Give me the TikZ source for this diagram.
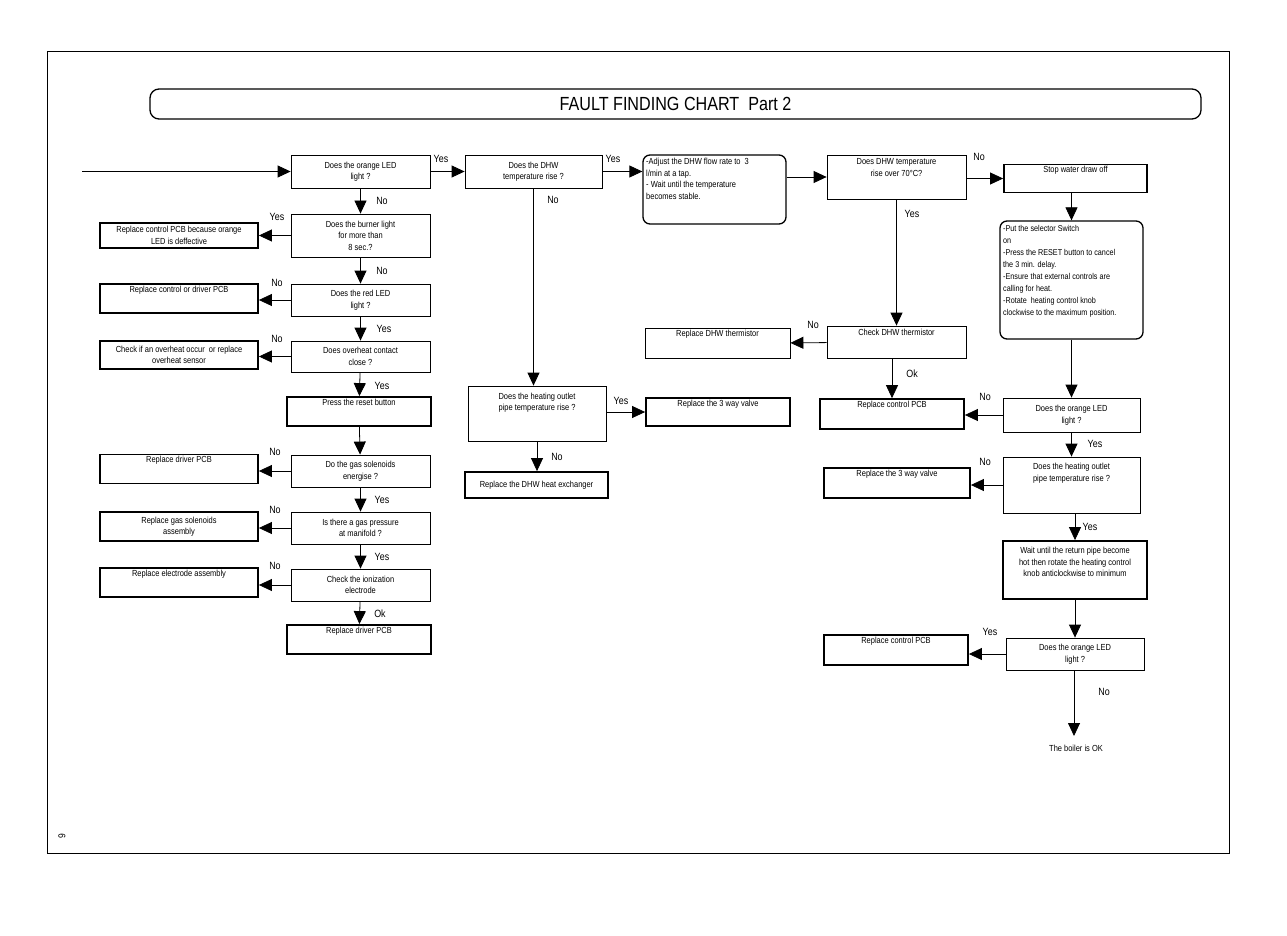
\documentclass[tikz,border=0pt]{standalone}
\usepackage{fontspec}
\setmainfont{Liberation Sans}[FakeStretch=0.85]
\usetikzlibrary{arrows.meta}
\newcommand\bx[7]{\node[#6, minimum width={(#4-#2)*1pt}, minimum height={(#5-#3)*1pt}] (#1) at ({(#2+#4)/2},{-(#3+#5)/2}) {#7};}
\begin{document}
\begin{tikzpicture}[x=1pt,y=1pt,
  every node/.style={font=\fontsize{8.8}{11.5}\selectfont, inner sep=2pt},
  box/.style={draw, line width=0.8pt, align=center},
  tbox/.style={draw, line width=1.8pt, align=center},
  rbox/.style={draw, line width=1.3pt, rounded corners=7pt},
  rtext/.style={align=left, anchor=north west, inner sep=1pt},
  ar/.style={line width=0.8pt, -{Triangle[length=13pt,width=12pt]}},
  lab/.style={font=\fontsize{10.5}{12}\selectfont}]
\useasboundingbox (0,0) rectangle (1287,-936);
\draw[line width=1pt] (47,-52) rectangle (1229,-853);
\node[draw, line width=1.3pt, rounded corners=9pt, minimum width=1051pt, minimum height=30pt, font=\fontsize{19}{22}\selectfont] (title) at (675.5,-104) {FAULT FINDING CHART\ \ Part 2};
\node[rotate=90, font=\fontsize{10}{12}\selectfont] (pg) at (62,-836) {9};
% left column
\coordinate (in) at (82,-171.5);
\bx{A1}{291}{155}{430}{188}{box}{Does the orange LED\\light ?}
\bx{A2}{291}{214}{430}{257}{box}{Does the burner light\\for more than\\8 sec.?}
\bx{A3}{291}{284}{430}{316}{box}{Does the red LED\\light ?}
\bx{A4}{291}{341}{430}{372}{box}{Does overheat contact\\close ?}
\bx{A5}{287}{397}{431}{426}{tbox}{Press the reset button\\[7pt]}
\bx{A6}{291}{455}{430}{487}{box}{Do the gas solenoids\\energise ?}
\bx{A7}{291}{512}{430}{544}{box}{Is there a gas pressure\\at manifold ?}
\bx{A8}{291}{569}{430}{601}{box}{Check the ionization\\electrode}
\bx{A9}{287}{625}{431}{654}{tbox}{Replace driver PCB\\[7pt]}
\bx{L2}{100}{223}{258}{248}{tbox}{Replace control PCB because orange\\LED is deffective}
\bx{L3}{100}{285}{258}{312}{tbox}{Replace control or driver PCB\\[7pt]}
\bx{L4}{100}{341}{258}{369}{tbox}{Check if an overheat occur\ \ or replace\\overheat sensor}
\bx{L6}{100}{455}{258}{483}{tbox}{Replace driver PCB\\[7pt]}
\bx{L7}{100}{512}{258}{541}{tbox}{Replace gas solenoids\\assembly}
\bx{L8}{100}{568}{258}{597}{tbox}{Replace electrode assembly\\[7pt]}
\draw[ar] (in) -- (A1.west);
\draw[ar] (A1) -- (A2); \draw[ar] (A2) -- (A3); \draw[ar] (A3) -- (A4);
\draw[ar] (A4) -- (A5); \draw[ar] (A5) -- (A6); \draw[ar] (A6) -- (A7);
\draw[ar] (A7) -- (A8); \draw[ar] (A8) -- (A9);
\draw[ar] (A2.west) -- (A2.west -| L2.east);
\draw[ar] (A3.west) -- (A3.west -| L3.east);
\draw[ar] (A4.west) -- (A4.west -| L4.east);
\draw[ar] (A6.west) -- (A6.west -| L6.east);
\draw[ar] (A7.west) -- (A7.west -| L7.east);
\draw[ar] (A8.west) -- (A8.west -| L8.east);
\node[lab] at (441,-159) {Yes};
\node[lab] at (382,-201) {No};
\node[lab] at (277,-217) {Yes};
\node[lab] at (382,-271) {No};
\node[lab] at (277,-283) {No};
\node[lab] at (384,-329) {Yes};
\node[lab] at (277,-339) {No};
\node[lab] at (382,-386) {Yes};
\node[lab] at (275,-452) {No};
\node[lab] at (382,-500) {Yes};
\node[lab] at (275,-510) {No};
\node[lab] at (382,-557) {Yes};
\node[lab] at (275,-566) {No};
\node[lab] at (380,-614) {Ok};
% column 2
\bx{B1}{465}{155}{602}{188}{box}{Does the DHW\\temperature rise ?}
\bx{B2}{468}{386}{606}{441}{box}{Does the heating outlet\\pipe temperature rise ?\\[12pt]}
\bx{B3}{465}{472}{608}{498}{tbox}{Replace the DHW heat exchanger}
\bx{B4}{646}{398}{790}{426}{tbox}{Replace the 3 way valve\\[6pt]}
\draw[ar] (A1) -- (B1);
\draw[ar] (B1.south) -- (B1.south |- B2.north);
\draw[ar] (B2.south) -- (B2.south |- B3.north);
\draw[ar] (B2.east |- B4) -- (B4.west);
\node[lab] at (553,-200) {No};
\node[lab] at (557,-457) {No};
\node[lab] at (621,-401) {Yes};
\node[lab] at (613,-159) {Yes};
% column 3
\bx{C1}{643}{155}{786}{224}{rbox}{}
\node[rtext] (C1t) at (645,-157) {-Adjust the DHW flow rate to\ \ 3\\l/min at a tap.\\- Wait until the temperature\\becomes stable.};
\bx{C2}{827}{155}{966}{199}{box}{Does DHW temperature\\rise over 70°C?\\[8pt]}
\bx{C3}{827}{326}{966}{358}{box}{Check DHW thermistor\\[8pt]}
\bx{C4}{645}{329}{790}{358}{box}{Replace DHW thermistor\\[8pt]}
\bx{C5}{820}{400}{964}{428}{tbox}{Replace control PCB\\[8pt]}
\bx{C6}{824}{469}{970}{497}{tbox}{Replace the 3 way valve\\[8pt]}
\bx{C7}{824}{636}{968}{664}{tbox}{Replace control PCB\\[8pt]}
\draw[ar] (B1.east) -- (B1.east -| C1.west);
\draw[ar] (C1.east |- C2) -- (C2.west);
\draw[ar] (C2) -- (C3);
\draw[ar] (C3) -- (C4);
\draw[ar] (C3.south -| C5.north) -- (C5.north);
\node[lab] at (979,-157) {No};
\node[lab] at (912,-214) {Yes};
\node[lab] at (813,-325) {No};
\node[lab] at (912,-374) {Ok};
\node[lab] at (985,-397) {No};
\node[lab] at (985,-462) {No};
\node[lab] at (990,-632) {Yes};
% column 4
\bx{D1}{1004}{165}{1147}{192}{tbox}{Stop water draw off\\[6pt]}
\bx{D2}{1000}{221}{1143}{339}{rbox}{}
\node[rtext, font=\fontsize{8.5}{12}\selectfont] (D2t) at (1002,-224) {-Put the selector Switch\\on\\-Press the RESET button to cancel\\the 3 min. delay.\\-Ensure that external controls are\\calling for heat.\\-Rotate\ \ heating control knob\\clockwise to the maximum position.};
\bx{D3}{1003}{398}{1140}{432}{box}{Does the orange LED\\light ?}
\bx{D4}{1003}{457}{1140}{513}{box}{Does the heating outlet\\pipe temperature rise ?\\[14pt]}
\bx{D5}{1003}{541}{1147}{599}{tbox}{Wait until the return pipe become\\hot then rotate the heating control\\knob anticlockwise to minimum\\[4pt]}
\bx{D6}{1006}{638}{1144}{670}{box}{Does the orange LED\\light ?}
\node (end) at (1076,-748) {The boiler is OK};
\coordinate (endt) at (1074,-736);
\draw[ar] (C2.east |- D1) -- (D1.west);
\draw[ar] (D1.south -| D2.north) -- (D2.north);
\draw[ar] (D2.south -| D3.north) -- (D3.north);
\draw[ar] (D3) -- (D4);
\draw[ar] (D4.south -| D5.north) -- (D5.north);
\draw[ar] (D5.south -| D6.north) -- (D6.north);
\draw[ar] (D6.south -| endt) -- (endt);
\draw[ar] (D3.west) -- (D3.west -| C5.east);
\draw[ar] (D4.west) -- (D4.west -| C6.east);
\draw[ar] (D6.west) -- (D6.west -| C7.east);
\node[lab] at (1095,-444) {Yes};
\node[lab] at (1090,-527) {Yes};
\node[lab] at (1104,-692) {No};
\end{tikzpicture}
\end{document}
